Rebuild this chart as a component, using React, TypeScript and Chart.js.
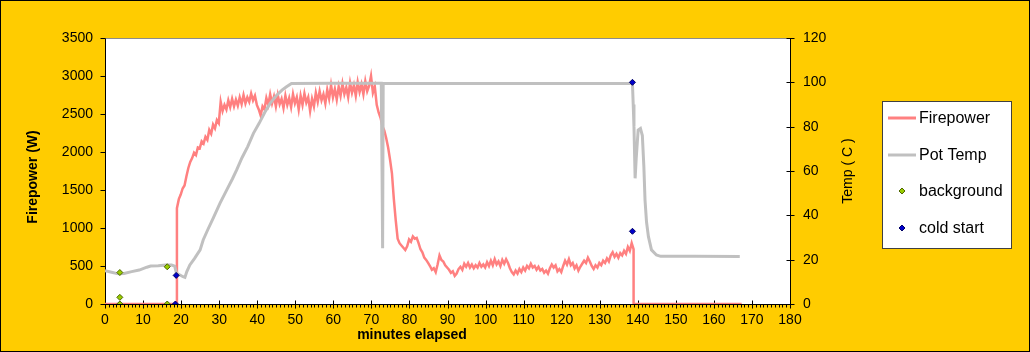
import React, { useEffect, useRef } from "react";
import { Chart, registerables } from "chart.js";

Chart.register(...registerables);

const FONT = '"Liberation Sans", Arial, Helvetica, sans-serif';

// ---- Data ----
const xMin = 0;
const xMax = 180;
const xStep = 10;
const firepowerMax = 3500;
const firepowerStep = 500;
const tempMax = 120;
const tempStep = 20;

const firepowerLeadMinutes = [0, 18.9];
const firepowerLeadValues = [0, 0];
const FIREPOWER_START = 18.9;
const FIREPOWER_STEP = 0.5;
const firepowerValues = [
  1260, 1380, 1440, 1520, 1560, 1680, 1790, 1870, 1920, 1990,
  1960, 2060, 2050, 2140, 2110, 2200, 2160, 2290, 2240, 2360,
  2310, 2420, 2380, 2660, 2540, 2620, 2560, 2680, 2590, 2700,
  2600, 2690, 2610, 2720, 2630, 2750, 2640, 2720, 2660, 2770,
  2680, 2740, 2620, 2560, 2480, 2600, 2560, 2710, 2620, 2760,
  2640, 2730, 2600, 2750, 2630, 2700, 2580, 2740, 2620, 2710,
  2590, 2760, 2640, 2720, 2560, 2740, 2620, 2770, 2650, 2720,
  2540, 2700, 2600, 2780, 2660, 2800, 2680, 2760, 2640, 2820,
  2700, 2880, 2720, 2830, 2690, 2860, 2740, 2900, 2760, 2850,
  2720, 2910, 2780, 2880, 2740, 2920, 2790, 2890, 2760, 2930,
  2800, 2870, 3000, 2780, 2860, 2620, 2520, 2450, 2340, 2280,
  2180, 2060, 1900, 1720, 1380, 1100, 860, 800, 770, 740,
  710, 760, 850, 820, 890, 860, 870, 800, 720, 680,
  610, 580, 540, 500, 450, 470, 420, 520, 640, 580,
  560, 510, 480, 450, 410, 430, 370, 400, 460, 490,
  450, 530, 490, 540, 480, 520, 470, 510, 480, 540,
  490, 520, 480, 550, 500, 570, 510, 590, 520, 560,
  500, 580, 530, 590, 540, 470, 420, 390, 440, 400,
  460, 420, 480, 440, 500, 470, 530, 480, 500, 450,
  490, 440, 460, 410, 440, 400, 470, 520, 480, 510,
  430, 460, 420, 500, 570, 520, 590, 510, 540, 470,
  510, 440, 490, 530, 570, 540, 610, 560, 500, 460,
  510, 480, 540, 510, 570, 540, 600, 560, 640, 680,
  620, 660, 610, 670, 640, 700, 660, 750, 700, 800,
  720,
];
const firepowerTailMinutes = [138.9, 167.3];
const firepowerTailValues = [0, 0];

const potTempMinutes = [
  0, 2, 3.5, 5, 7, 9, 11, 12, 14, 16, 17.5, 18.3, 18.8, 19.7, 20.5, 21.0,
  21.5, 22.3, 23.5, 25, 25.8, 27, 28.5, 30.2, 32, 33.5, 34.6, 36, 37.5, 39,
  40.5, 42, 43.4, 45, 46.5, 47.7, 49, 60, 72.6, 72.8, 72.95, 73.1, 100,
  138.6, 138.8, 139.0, 139.3, 139.6, 140.1, 140.7, 141.2, 141.6, 141.9,
  142.3, 142.8, 143.6, 144.9, 146, 155, 166.8,
];
const potTempValues = [
  15.0, 14.2, 13.6, 13.8, 14.6, 15.3, 16.6, 17.1, 17.3, 17.6, 17.6, 17.1,
  13.8, 13.1, 12.3, 12.0, 14.6, 17.6, 20.5, 24.4, 28.9, 33.5, 39, 45.4,
  51.5, 56.5, 60.5, 66, 71, 77, 81.5, 86.5, 90.5, 94, 96.5, 98, 99.5, 99.6,
  99.6, 60, 25.1, 99.5, 99.5, 99.5, 90, 80, 56.7, 66, 78.5, 79.2, 76, 62,
  47, 37, 30.4, 24.4, 22.1, 21.5, 21.5, 21.4,
];

const backgroundMinutes = [3.9, 16.35, 3.9, 3.9, 16.35];
const backgroundValues = [14.2, 16.8, 3.0, 0, 0];

const coldStartMinutes = [18.7, 138.6, 138.6, 18.5];
const coldStartValues = [12.9, 100, 32.8, 0];

const legendLabels = ["Firepower", "Pot Temp", "background", "cold start"];

// ---- Styles ----
const PINK = "#FF8080";
const GRAY = "#C0C0C0";
const BG_FILL = "#99CC00";
const BG_EDGE = "#4D6600";
const CS_FILL = "#0000CC";
const CS_EDGE = "#000066";

function pairs(xs: number[], ys: number[]) {
  return xs.map((x, i) => ({ x, y: ys[i] }));
}

function firepowerPoints() {
  const pts = pairs(firepowerLeadMinutes, firepowerLeadValues);
  firepowerValues.forEach((v, i) => {
    pts.push({ x: FIREPOWER_START + i * FIREPOWER_STEP, y: v });
  });
  return pts.concat(pairs(firepowerTailMinutes, firepowerTailValues));
}

function diamond(ctx: CanvasRenderingContext2D, x: number, y: number, r: number, fill: string, edge: string) {
  ctx.beginPath();
  ctx.moveTo(x, y - r);
  ctx.lineTo(x + r, y);
  ctx.lineTo(x, y + r);
  ctx.lineTo(x - r, y);
  ctx.closePath();
  ctx.fillStyle = fill;
  ctx.fill();
  ctx.strokeStyle = edge;
  ctx.lineWidth = 1;
  ctx.stroke();
}

const excelLook = {
  id: "excelLook",
  beforeDraw(chart: any) {
    const { ctx, chartArea: a } = chart;
    ctx.save();
    ctx.fillStyle = "#FFFFFF";
    ctx.fillRect(a.left, a.top, a.right - a.left, a.bottom - a.top);
    ctx.restore();
  },
  beforeDatasetsDraw(chart: any) {
    const { ctx, chartArea: a, scales } = chart;
    const xs = scales.x;
    const yl = scales.y;
    const yr = scales.y1;
    const L = Math.round(a.left) + 0.5;
    const R = Math.round(a.right) + 0.5;
    const T = Math.round(a.top) + 0.5;
    const B = Math.round(a.bottom) + 0.5;
    ctx.save();
    ctx.lineWidth = 1;
    ctx.strokeStyle = "#8C8C8C";
    ctx.beginPath();
    ctx.moveTo(L, T);
    ctx.lineTo(R, T);
    ctx.stroke();
    ctx.strokeStyle = "#000000";
    ctx.beginPath();
    ctx.moveTo(L, T);
    ctx.lineTo(L, B);
    ctx.moveTo(L, B);
    ctx.lineTo(R, B);
    ctx.moveTo(R, T);
    ctx.lineTo(R, B);
    for (let m = xMin; m <= xMax; m += 1) {
      const px = Math.round(xs.getPixelForValue(m)) + 0.5;
      if (m % xStep === 0) {
        ctx.moveTo(px, B - 4);
        ctx.lineTo(px, B + 4);
      } else {
        ctx.moveTo(px, B);
        ctx.lineTo(px, B + 3);
      }
    }
    for (let v = 0; v <= firepowerMax; v += firepowerStep) {
      const py = Math.round(yl.getPixelForValue(v)) + 0.5;
      ctx.moveTo(L - 5, py);
      ctx.lineTo(L, py);
    }
    for (let v = 0; v <= tempMax; v += tempStep) {
      const py = Math.round(yr.getPixelForValue(v)) + 0.5;
      ctx.moveTo(R - 4, py);
      ctx.lineTo(R + 4, py);
    }
    ctx.stroke();
    ctx.restore();
  },
  afterDraw(chart: any) {
    const { ctx } = chart;
    ctx.save();
    ctx.fillStyle = "#000000";
    ctx.font = `bold 14px ${FONT}`;
    ctx.textAlign = "center";
    ctx.textBaseline = "middle";
    ctx.fillText("minutes elapsed", 411, 334);
    ctx.save();
    ctx.translate(32, 176);
    ctx.rotate(-Math.PI / 2);
    ctx.fillText("Firepower (W)", 0, 0);
    ctx.restore();
    ctx.font = `14px ${FONT}`;
    ctx.save();
    ctx.translate(847, 170);
    ctx.rotate(-Math.PI / 2);
    ctx.fillText("Temp ( C )", 0, 0);
    ctx.restore();

    const bx = 881.5, by = 100.5, bw = 129, bh = 147;
    ctx.fillStyle = "#FFFFFF";
    ctx.fillRect(bx, by, bw, bh);
    ctx.strokeStyle = "#404040";
    ctx.lineWidth = 1;
    ctx.strokeRect(bx, by, bw, bh);
    const rows = [117, 154, 190, 227];
    ctx.font = `16px ${FONT}`;
    ctx.textAlign = "left";
    ctx.textBaseline = "middle";
    ctx.lineWidth = 3;
    ctx.strokeStyle = PINK;
    ctx.beginPath();
    ctx.moveTo(887, rows[0]);
    ctx.lineTo(915, rows[0]);
    ctx.stroke();
    ctx.strokeStyle = GRAY;
    ctx.beginPath();
    ctx.moveTo(887, rows[1]);
    ctx.lineTo(915, rows[1]);
    ctx.stroke();
    diamond(ctx, 901, rows[2], 3, BG_FILL, BG_EDGE);
    diamond(ctx, 901, rows[3], 3, CS_FILL, CS_EDGE);
    ctx.fillStyle = "#000000";
    legendLabels.forEach((t, i) => ctx.fillText(t, 918, rows[i] + 1));
    ctx.restore();
  },
};

const plainTick = (v: any) => String(v);

export default function App() {
  const ref = useRef<HTMLCanvasElement | null>(null);

  useEffect(() => {
    document.body.style.margin = "0";
    if (!ref.current) return;
    const chart = new Chart(ref.current, {
      type: "scatter",
      data: {
        datasets: [
          {
            label: "cold start",
            data: pairs(coldStartMinutes, coldStartValues),
            yAxisID: "y1",
            showLine: false,
            pointStyle: "rectRot",
            pointRadius: 3,
            backgroundColor: CS_FILL,
            borderColor: CS_EDGE,
            borderWidth: 1,
            clip: 0,
          } as any,
          {
            label: "background",
            data: pairs(backgroundMinutes, backgroundValues),
            yAxisID: "y1",
            showLine: false,
            pointStyle: "rectRot",
            pointRadius: 3,
            backgroundColor: BG_FILL,
            borderColor: BG_EDGE,
            borderWidth: 1,
            clip: 0,
          } as any,
          {
            label: "Pot Temp",
            data: pairs(potTempMinutes, potTempValues),
            yAxisID: "y1",
            showLine: true,
            borderColor: GRAY,
            borderWidth: 3,
            pointRadius: 0,
            tension: 0,
          } as any,
          {
            label: "Firepower",
            data: firepowerPoints(),
            yAxisID: "y",
            showLine: true,
            borderColor: PINK,
            borderWidth: 2.5,
            pointRadius: 0,
            tension: 0,
          } as any,
        ],
      },
      options: {
        animation: false,
        responsive: false,
        maintainAspectRatio: false,
        layout: { padding: { top: 37, left: 0, right: 0, bottom: 0 } },
        plugins: {
          legend: { display: false },
          tooltip: { enabled: false },
          title: { display: false },
        },
        scales: {
          x: {
            type: "linear",
            position: "bottom",
            min: xMin,
            max: xMax,
            grid: { display: false, drawTicks: false },
            border: { display: false },
            ticks: {
              stepSize: xStep,
              autoSkip: false,
              maxRotation: 0,
              padding: 8,
              color: "#000000",
              font: { family: FONT, size: 14 },
              callback: plainTick,
            },
            afterFit: (s: any) => {
              s.height = 47;
            },
          },
          y: {
            type: "linear",
            position: "left",
            min: 0,
            max: firepowerMax,
            grid: { display: false, drawTicks: false },
            border: { display: false },
            ticks: {
              stepSize: firepowerStep,
              padding: 12,
              color: "#000000",
              font: { family: FONT, size: 14 },
              callback: plainTick,
            },
            afterFit: (s: any) => {
              s.width = 104;
            },
          },
          y1: {
            type: "linear",
            position: "right",
            min: 0,
            max: tempMax,
            grid: { display: false, drawTicks: false },
            border: { display: false },
            ticks: {
              stepSize: tempStep,
              padding: 13,
              color: "#000000",
              font: { family: FONT, size: 14 },
              callback: plainTick,
            },
            afterFit: (s: any) => {
              s.width = 239;
            },
          },
        },
      } as any,
      plugins: [excelLook],
    });
    return () => chart.destroy();
  }, []);

  return (
    <div
      style={{
        position: "fixed",
        left: 0,
        top: 0,
        width: 1030,
        height: 352,
        boxSizing: "border-box",
        border: "1px solid #000000",
        background: "#FFCC00",
      }}
    >
      <canvas ref={ref} width={1028} height={350} style={{ display: "block", width: 1028, height: 350 }} />
    </div>
  );
}
